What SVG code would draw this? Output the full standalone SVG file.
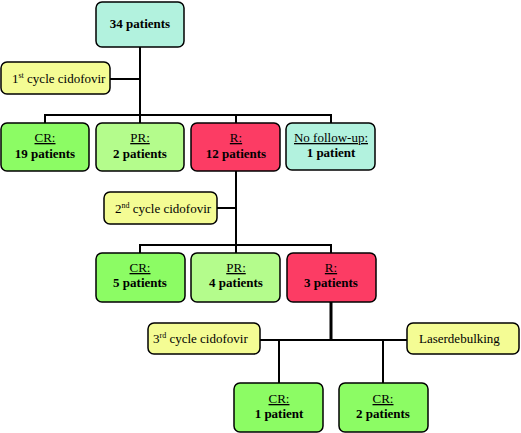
<svg xmlns="http://www.w3.org/2000/svg" width="521" height="433" viewBox="0 0 521 433">
<style>
.b{stroke:#000;stroke-width:1.5}
.teal{fill:#b2f2de}.cr{fill:#8cfc64}.pr{fill:#b4fc8c}.r{fill:#fc3c64}.y{fill:#f4fc94}
text{font-family:'Liberation Serif','DejaVu Serif',serif;font-size:13px;fill:#000}
.bold{font-weight:bold}
.u{text-decoration:underline}
.c{text-anchor:middle}
.sup{font-size:8px}
.ln{stroke:#000;stroke-width:2;fill:none}
</style>
<g id="connectors">
<path class="ln" d="M140 47V123M110 79H140M45 123V115H331V123M236 115V123"/>
<path class="ln" d="M236 171V253M217 208H236M140 253V245H331V253"/>
<path class="ln" d="M331 302V340" style="stroke-width:3"/>
<path class="ln" d="M260 340H407M279 340V383M383 340V383"/>
</g>
<g id="n34"><rect class="b teal" x="96" y="2" width="88" height="45" rx="6"/><text class="bold c" x="140" y="28">34 patients</text></g>
<g id="c1"><rect class="b y" x="1" y="62" width="109" height="32" rx="6"/><text x="12" y="83">1<tspan class="sup" dy="-5">st</tspan><tspan dy="5"> cycle cidofovir</tspan></text></g>
<g id="cr1"><rect class="b cr" x="1" y="123" width="88" height="48" rx="6"/><text class="u c" x="45" y="142">CR:</text><text class="bold c" x="45" y="158">19 patients</text></g>
<g id="pr1"><rect class="b pr" x="96" y="123" width="88" height="48" rx="6"/><text class="u c" x="140" y="142">PR:</text><text class="bold c" x="140" y="158">2 patients</text></g>
<g id="r1"><rect class="b r" x="191" y="123" width="89" height="48" rx="6"/><text class="u c" x="236" y="142">R:</text><text class="bold c" x="236" y="158">12 patients</text></g>
<g id="nf"><rect class="b teal" x="286" y="123" width="89" height="47" rx="6"/><text class="u c" x="331" y="142">No follow-up:</text><text class="bold c" x="331" y="157">1 patient</text></g>
<g id="c2"><rect class="b y" x="104" y="192" width="113" height="32" rx="6"/><text x="115" y="213">2<tspan class="sup" dy="-5">nd</tspan><tspan dy="5"> cycle cidofovir</tspan></text></g>
<g id="cr2"><rect class="b cr" x="96" y="253" width="89" height="49" rx="6"/><text class="u c" x="140" y="272">CR:</text><text class="bold c" x="140" y="287">5 patients</text></g>
<g id="pr2"><rect class="b pr" x="191" y="253" width="89" height="49" rx="6"/><text class="u c" x="236" y="272">PR:</text><text class="bold c" x="236" y="287">4 patients</text></g>
<g id="r2"><rect class="b r" x="287" y="253" width="89" height="49" rx="6"/><text class="u c" x="331" y="272">R:</text><text class="bold c" x="331" y="287">3 patients</text></g>
<g id="c3"><rect class="b y" x="148" y="323" width="112" height="31" rx="6"/><text x="153" y="343">3<tspan class="sup" dy="-5">rd</tspan><tspan dy="5"> cycle cidofovir</tspan></text></g>
<g id="laser"><rect class="b y" x="407" y="323" width="112" height="31" rx="6"/><text x="419" y="343">Laserdebulking</text></g>
<g id="cr3"><rect class="b cr" x="234" y="383" width="89" height="49" rx="6"/><text class="u c" x="279" y="403">CR:</text><text class="bold c" x="279" y="418">1 patient</text></g>
<g id="cr4"><rect class="b cr" x="339" y="383" width="89" height="49" rx="6"/><text class="u c" x="383" y="403">CR:</text><text class="bold c" x="383" y="418">2 patients</text></g>
</svg>
